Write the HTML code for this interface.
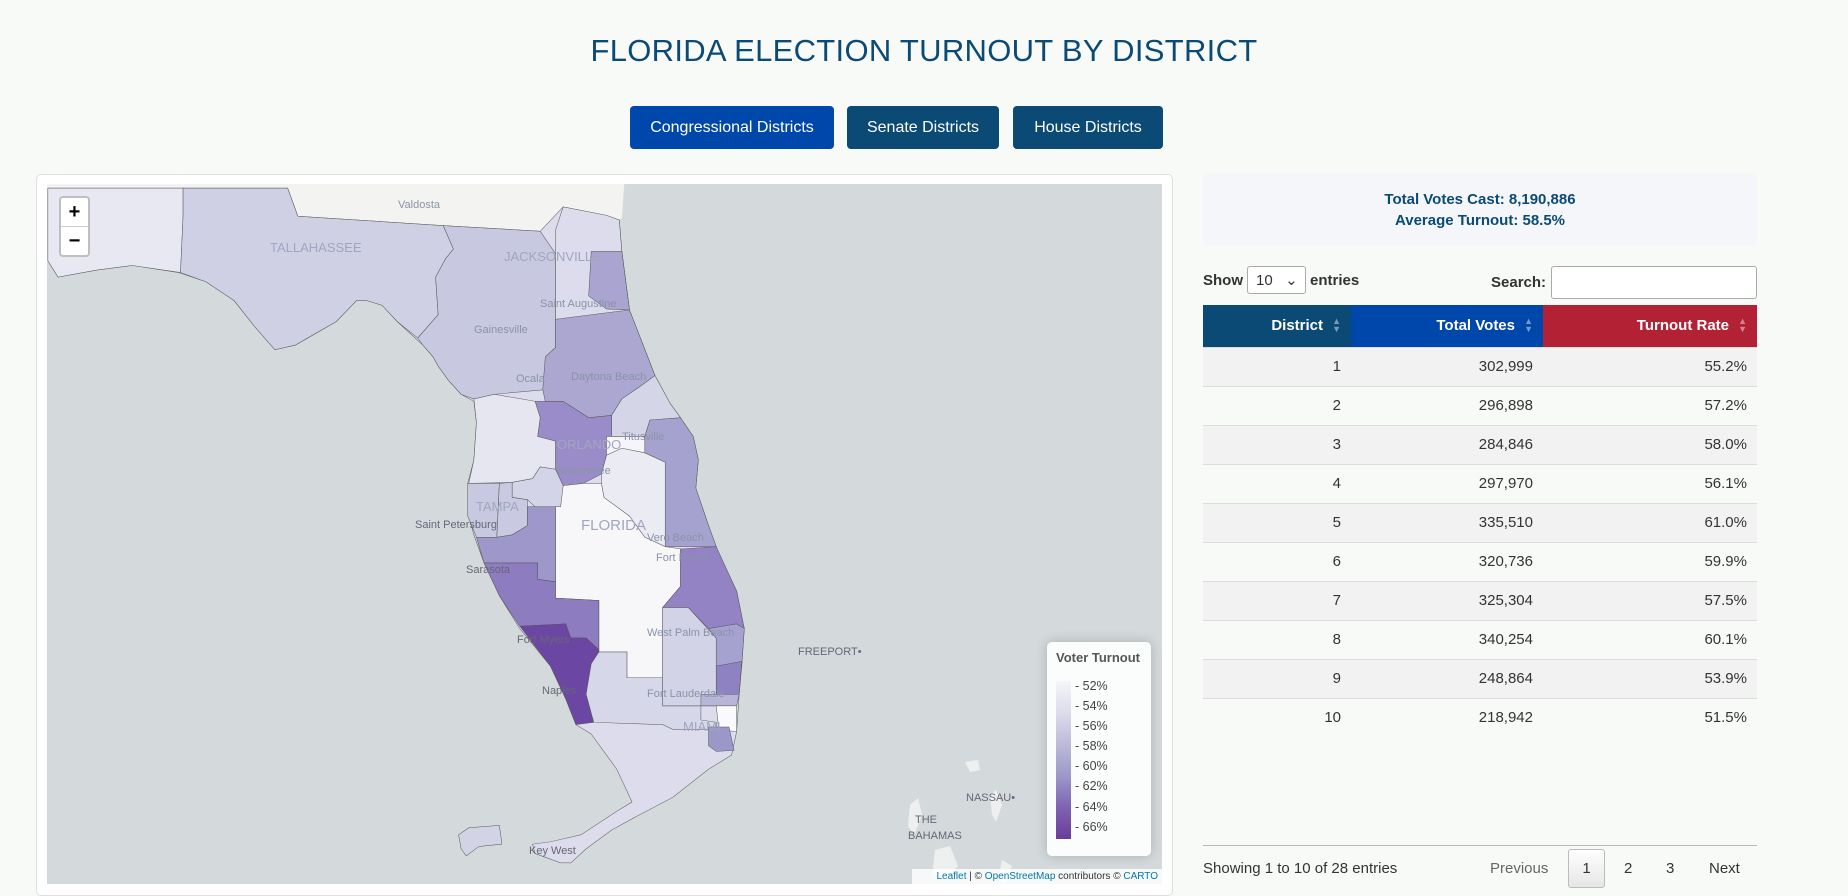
<!DOCTYPE html>
<html><head><meta charset="utf-8"><style>
*{box-sizing:border-box;margin:0;padding:0}
body{width:1848px;height:895px;background:#f8faf8;font-family:"Liberation Sans",sans-serif;position:relative;overflow:hidden;color:#333}
.abs{position:absolute}
h1{position:absolute;left:0;width:1848px;top:33px;text-align:center;font-weight:400;font-size:31px;color:#0b4a75;letter-spacing:0.3px}
.btn{position:absolute;top:106px;height:43px;border-radius:4px;color:#fff;font-size:16px;display:flex;align-items:center;justify-content:center;background:#0b4a75}
table{border-collapse:collapse;width:554px;font-size:15px}
th{height:42px;color:#fff;text-align:right;padding-right:28px;font-weight:700;position:relative}
th .s{position:absolute;right:10px;top:12px;font-size:9px;line-height:8px;color:rgba(255,255,255,.45)}
td{height:39px;text-align:right;padding-right:10px;border-top:1px solid #dcdcdc;color:#333}
tr.o td{background:#f1f2f1}
.lab{font-size:11px;fill:#8a93a8;font-family:"Liberation Sans",sans-serif}
.lab2{font-size:13px;fill:#a0a6c0;font-family:"Liberation Sans",sans-serif}
</style></head><body>
<h1>FLORIDA ELECTION TURNOUT BY DISTRICT</h1>
<div class="btn" style="left:630px;width:204px;background:#0047ab">Congressional Districts</div>
<div class="btn" style="left:847px;width:152px">Senate Districts</div>
<div class="btn" style="left:1013px;width:150px">House Districts</div>

<div class="abs" style="left:36px;top:174px;width:1137px;height:722px;border:1px solid #dde2de;border-radius:5px;background:#fff"></div>
<svg class="abs" style="left:0;top:0" width="1848" height="895">
<defs><clipPath id="c"><rect x="47" y="184" width="1115" height="700"/></clipPath></defs>
<g clip-path="url(#c)">
<rect x="47" y="184" width="1115" height="700" fill="#d4dadc"/>
<g transform="translate(30,160) scale(0.5102,0.4686)" stroke="#555" stroke-width="1" vector-effect="non-scaling-stroke">
<polygon stroke="none" fill="#f3f3f1" points="0,0 1168,0 1160,125 1030,150 35,215 0,215"/>
<polygon fill="#dcdcec" points="35,60 505,60 525,120 810,140 1000,152 1045,100 1130,118 1155,128 1160,195 1175,320 1200,390 1225,460 1255,520 1275,550 1300,590 1310,640 1305,700 1330,780 1350,840 1385,920 1400,1000 1395,1080 1390,1140 1385,1220 1375,1270 1330,1300 1260,1360 1190,1400 1140,1430 1090,1470 1060,1500 1040,1500 990,1480 985,1460 1020,1455 1080,1440 1150,1390 1180,1370 1150,1300 1100,1225 1070,1205 1050,1150 1020,1080 960,1000 920,930 890,860 870,800 860,760 858,690 870,640 875,560 870,515 845,500 820,470 800,440 790,420 770,395 755,380 720,345 690,310 660,300 640,300 600,345 560,370 520,395 480,405 440,355 400,300 345,260 290,240 200,225 130,235 55,250 35,215"/>
<polygon fill="#d3d3e6" points="840,1440 860,1425 920,1420 925,1460 880,1465 855,1485 845,1470"/>
<polygon fill="#e8e8f2" points="35,60 300,60 300,120 295,240 200,225 130,235 55,250 35,215"/>
<polygon fill="#d0d0e5" points="300,60 505,60 525,120 810,140 830,190 815,210 795,250 800,330 760,380 720,345 690,310 660,300 640,300 600,345 560,370 520,395 480,405 440,355 400,300 345,260 295,240 300,120"/>
<polygon fill="#c8c8e0" points="810,140 1000,152 1030,200 1030,400 1010,420 1010,490 910,500 870,510 845,500 820,470 800,440 790,420 770,395 760,380 800,330 795,250 815,210 830,190"/>
<polygon fill="#dcdcec" points="1030,150 1045,100 1130,118 1155,128 1160,195 1175,320 1030,340 1030,200"/>
<polygon fill="#a9a5d0" points="1100,195 1160,195 1175,320 1130,318 1095,290"/>
<polygon fill="#aba7d1" points="1030,340 1175,320 1200,390 1225,460 1200,480 1160,510 1140,545 1095,550 1045,515 1010,515 1005,490 1010,420 1030,400"/>
<polygon fill="#d5d5e8" points="1140,545 1160,510 1200,480 1225,460 1255,520 1275,550 1215,555 1205,590 1140,590"/>
<polygon fill="#a6a2cf" points="1215,555 1275,550 1300,590 1310,640 1305,700 1330,780 1345,825 1245,825 1245,645 1205,625 1205,590"/>
<polygon fill="#9a8cc8" points="990,515 1045,515 1095,550 1140,545 1140,590 1130,630 1120,670 1085,690 1045,695 1030,660 1030,600 995,590 1000,550"/>
<polygon fill="#f5f5fa" points="1130,590 1205,590 1205,625 1160,615 1130,630"/>
<polygon fill="#ebebf4" points="1120,670 1130,630 1160,615 1205,625 1245,645 1245,825 1205,805 1175,760 1125,720 1120,690"/>
<polygon fill="#f7f7fa" points="1045,695 1085,690 1120,690 1125,720 1175,760 1205,805 1245,825 1275,830 1275,910 1240,955 1240,1105 1170,1105 1170,1050 1115,1050 1115,940 1030,935 1030,740"/>
<polygon fill="#e6e6f1" points="870,510 910,500 990,515 1000,550 995,590 1030,600 1030,660 1000,655 985,680 945,688 860,690 870,640 875,560"/>
<polygon fill="#d4d4e8" points="945,688 985,680 1000,655 1030,660 1045,695 1040,740 990,740 975,725 945,720"/>
<polygon fill="#c8c8e0" points="858,690 920,690 915,805 875,805 858,760"/>
<polygon fill="#c9c9e1" points="920,690 945,688 945,720 975,725 975,780 945,800 915,805"/>
<polygon fill="#9d98c9" points="875,805 915,805 945,800 975,780 975,740 1030,740 1030,900 995,895 995,860 890,860"/>
<polygon fill="#8e7cc0" points="890,860 995,860 995,895 1030,900 1030,935 1115,940 1115,1045 1090,1020 1060,1020 1050,990 960,995 920,930"/>
<polygon fill="#6b47a3" points="960,995 1050,990 1060,1020 1090,1020 1115,1045 1115,1065 1100,1075 1090,1140 1105,1200 1070,1205 1050,1150 1020,1080"/>
<polygon fill="#d7d7ea" points="1100,1075 1115,1050 1170,1050 1170,1105 1240,1105 1240,1165 1315,1165 1315,1195 1345,1200 1345,1215 1260,1215 1240,1205 1105,1200 1090,1140"/>
<polygon fill="#9382c4" points="1275,830 1345,825 1385,920 1400,1000 1380,990 1350,1010 1330,1000 1290,955 1240,955 1275,910"/>
<polygon fill="#d3d3e7" points="1240,955 1290,955 1345,1020 1345,1165 1240,1165"/>
<polygon fill="#a6a2cf" points="1330,1000 1385,990 1400,1000 1395,1080 1345,1080 1345,1020"/>
<polygon fill="#8f82c3" points="1345,1080 1395,1070 1390,1140 1345,1140"/>
<polygon fill="#b8b6d8" points="1315,1140 1390,1140 1385,1165 1315,1165"/>
<polygon fill="#fafafc" points="1345,1165 1385,1165 1385,1220 1350,1215"/>
<polygon fill="#9c97c9" points="1330,1210 1370,1210 1380,1260 1345,1262 1330,1250"/>
</g>
<g fill="#eef0ef">
<polygon points="910,805 918,798 922,815 914,835 908,826"/>
<polygon points="965,762 978,760 980,770 970,772"/>
<polygon points="990,795 996,790 1002,805 996,822 992,815"/>
<polygon points="935,850 950,846 958,866 946,880 932,876"/>
<polygon points="1002,860 1012,866 1006,884 998,880"/>
</g>
<g class="lab">
<text x="398" y="208">Valdosta</text>
<text x="270" y="252" class="lab2">TALLAHASSEE</text>
<text x="504" y="261" class="lab2">JACKSONVILLE</text>
<text x="540" y="307">Saint Augustine</text>
<text x="474" y="333">Gainesville</text>
<text x="516" y="382">Ocala</text>
<text x="571" y="380">Daytona Beach</text>
<text x="557" y="449" class="lab2">ORLANDO</text>
<text x="622" y="440">Titusville</text>
<text x="557" y="474">Kissimmee</text>
<text x="476" y="511" class="lab2">TAMPA</text>
<text x="415" y="528" style="fill:#667">Saint Petersburg</text>
<text x="581" y="530" class="lab2" style="font-size:15px">FLORIDA</text>
<text x="647" y="541">Vero Beach</text>
<text x="656" y="561">Fort Pierce</text>
<text x="466" y="573" style="fill:#667">Sarasota</text>
<text x="647" y="636">West Palm Beach</text>
<text x="517" y="643" style="fill:#667">Fort Myers</text>
<text x="798" y="655" style="fill:#667">FREEPORT•</text>
<text x="542" y="694" style="fill:#667">Naples</text>
<text x="647" y="697">Fort Lauderdale</text>
<text x="683" y="731" class="lab2">MIAMI</text>
<text x="529" y="854" style="fill:#667">Key West</text>
<text x="966" y="801" style="fill:#667">NASSAU•</text>
<text x="915" y="823" style="fill:#667">THE</text>
<text x="908" y="839" style="fill:#667">BAHAMAS</text>
</g>
</g>
</svg>
<div class="abs" style="left:59px;top:196px;width:31px;height:61px;border:2px solid rgba(0,0,0,.25);border-radius:4px;background:#fff;font-size:20px;font-weight:700;color:#000;text-align:center;line-height:28px"><div style="border-bottom:1px solid #ccc">+</div><div>−</div></div>
<div class="abs" style="left:912px;top:869px;width:250px;height:15px;background:rgba(255,255,255,.8);font-size:10px;color:#333;text-align:right;padding-right:4px;line-height:15px"><span style="color:#0078a8">Leaflet</span> | © <span style="color:#0078a8">OpenStreetMap</span> contributors © <span style="color:#0078a8">CARTO</span></div>
<div class="abs" style="left:1047px;top:642px;width:104px;height:214px;background:rgba(255,255,255,.9);border-radius:5px;box-shadow:0 0 12px rgba(0,0,0,.2);font-size:13px">
<div style="position:absolute;left:9px;top:8px;font-weight:700;color:#555">Voter Turnout</div>
<div style="position:absolute;left:9px;top:39px;width:15px;height:158px;background:linear-gradient(#f5f5fa,#dcdcec,#bcbad9,#9d98c9,#7e63b2,#6a3d9a)"></div>
<div style="position:absolute;left:28px;top:34px;line-height:20.1px;color:#444;font-size:12.5px">- 52%<br>- 54%<br>- 56%<br>- 58%<br>- 60%<br>- 62%<br>- 64%<br>- 66%</div>
</div>

<div class="abs" style="left:1203px;top:174px;width:554px;height:71px;background:#f4f6f9;border-radius:4px;text-align:center;color:#0b4a75;font-weight:700;font-size:15px;line-height:21px;padding-top:15px">Total Votes Cast: 8,190,886<br>Average Turnout: 58.5%</div>
<div class="abs" style="left:1203px;top:266px;font-size:15px;font-weight:700;color:#333;display:flex;align-items:center;white-space:nowrap">Show <span style="display:inline-block;width:59px;height:28px;border:1px solid #aaa;border-radius:3px;margin:0 4px;font-weight:400;padding:4px 8px;background:#fff;white-space:nowrap">10 &nbsp;&nbsp;⌄</span> entries</div>
<div class="abs" style="left:1491px;top:274px;font-size:15px;font-weight:700">Search:</div>
<div class="abs" style="left:1551px;top:266px;width:206px;height:33px;border:1px solid #aaa;border-radius:3px;background:#fff"></div>
<table class="abs" style="left:1203px;top:305px">
<tr><th style="background:#0b4a75;width:148px">District<span class="s">▲<br>▼</span></th><th style="background:#0047ab;width:192px">Total Votes<span class="s">▲<br>▼</span></th><th style="background:#b22234">Turnout Rate<span class="s">▲<br>▼</span></th></tr>
<tr class="o"><td>1</td><td>302,999</td><td>55.2%</td></tr>
<tr><td>2</td><td>296,898</td><td>57.2%</td></tr>
<tr class="o"><td>3</td><td>284,846</td><td>58.0%</td></tr>
<tr><td>4</td><td>297,970</td><td>56.1%</td></tr>
<tr class="o"><td>5</td><td>335,510</td><td>61.0%</td></tr>
<tr><td>6</td><td>320,736</td><td>59.9%</td></tr>
<tr class="o"><td>7</td><td>325,304</td><td>57.5%</td></tr>
<tr><td>8</td><td>340,254</td><td>60.1%</td></tr>
<tr class="o"><td>9</td><td>248,864</td><td>53.9%</td></tr>
<tr><td>10</td><td>218,942</td><td>51.5%</td></tr>
</table>
<div class="abs" style="left:1203px;top:845px;width:554px;border-top:1px solid #bbb"></div>
<div class="abs" style="left:1203px;top:860px;font-size:15px">Showing 1 to 10 of 28 entries</div>
<div class="abs" style="left:1490px;top:860px;font-size:15px;color:#666">Previous</div>
<div class="abs" style="left:1568px;top:849px;width:37px;height:39px;border:1px solid #bbb;border-radius:3px;background:linear-gradient(#fff,#e6e6e6);font-size:15px;text-align:center;line-height:37px">1</div>
<div class="abs" style="left:1624px;top:860px;font-size:15px">2</div>
<div class="abs" style="left:1666px;top:860px;font-size:15px">3</div>
<div class="abs" style="left:1709px;top:860px;font-size:15px">Next</div>
</body></html>
